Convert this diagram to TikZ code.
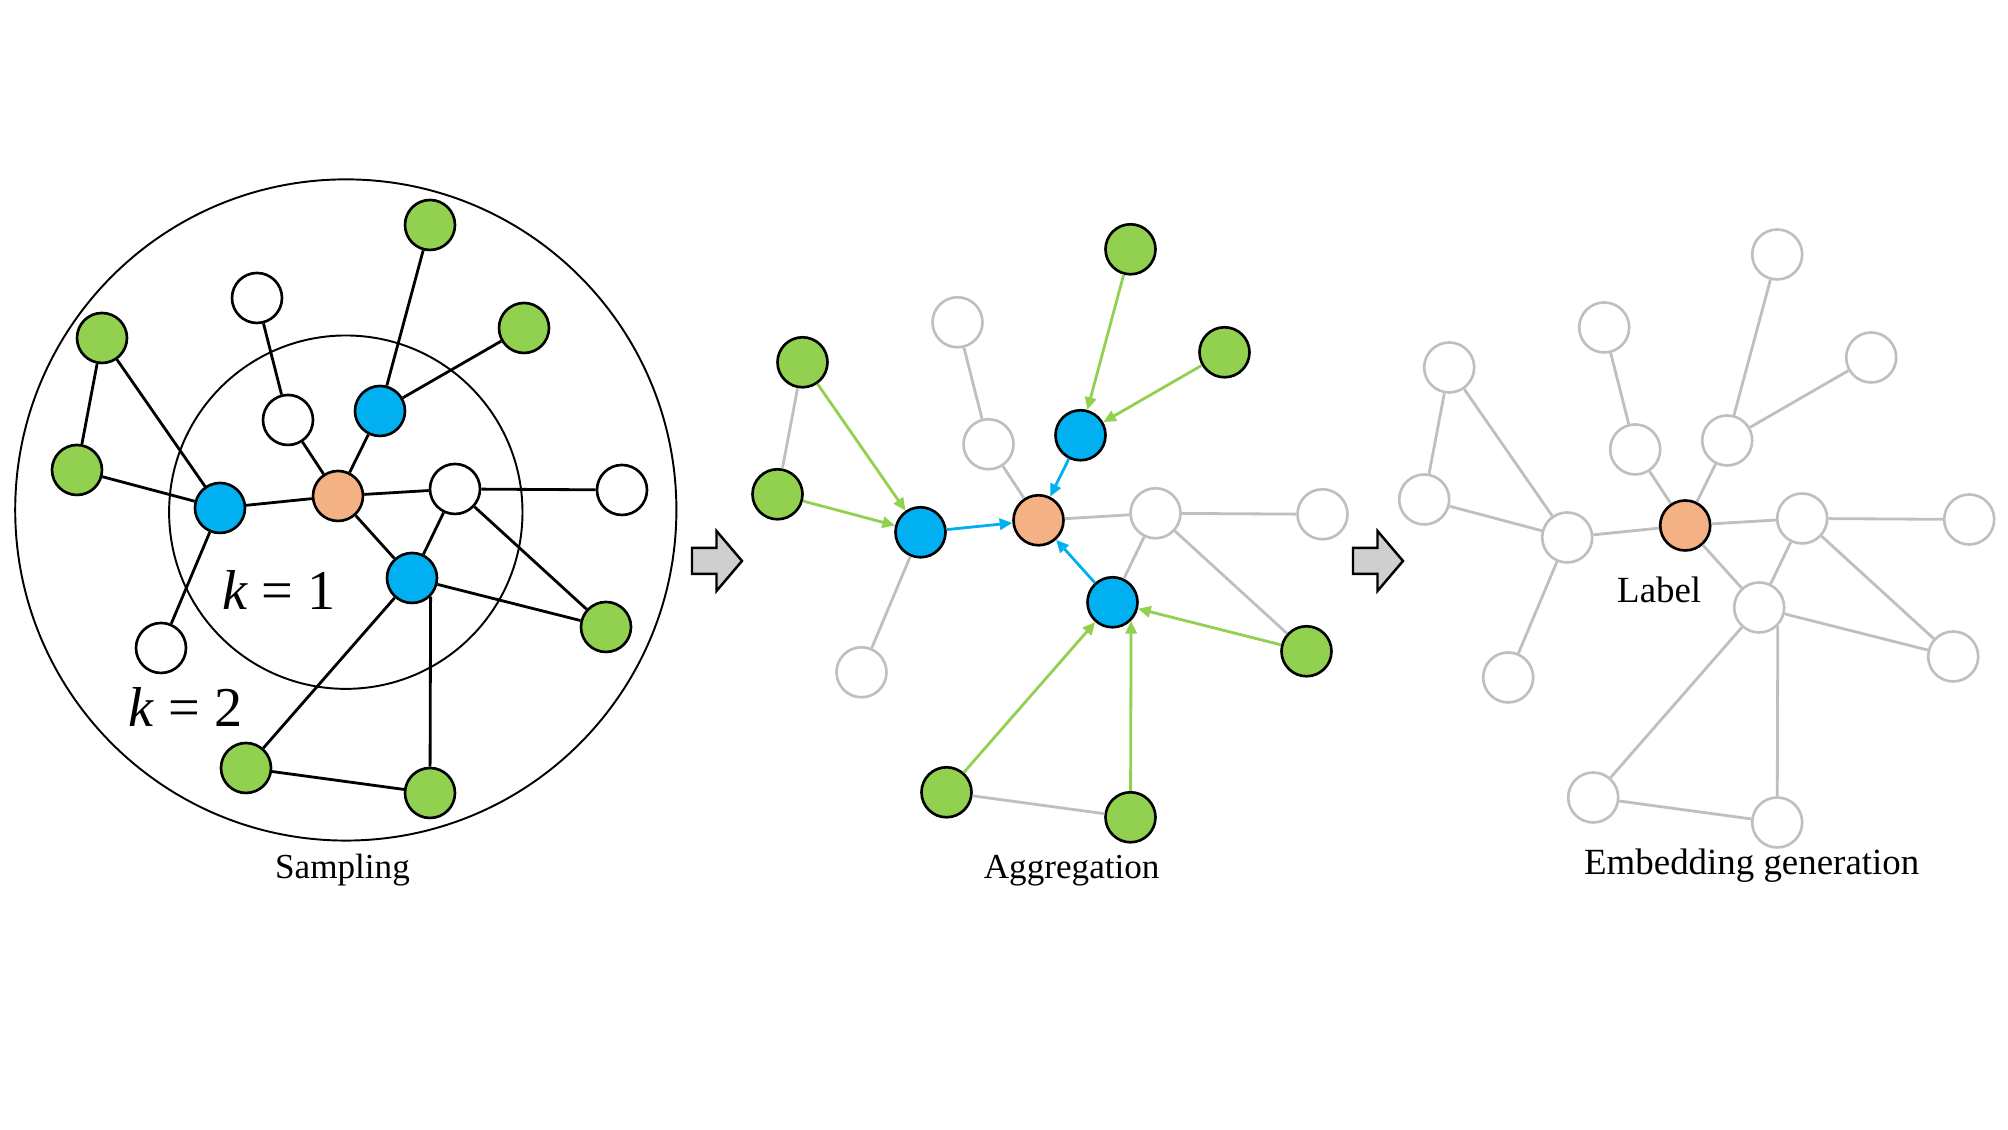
\documentclass[tikz,border=0pt]{standalone}
\usepackage{fontspec}
\setmainfont{Liberation Serif}
\usetikzlibrary{arrows.meta,positioning}
\definecolor{leafgreen}{HTML}{92D050}
\definecolor{hopblue}{HTML}{00B0F0}
\definecolor{targetorange}{HTML}{F4B183}
\definecolor{fadegray}{HTML}{BFBFBF}
\definecolor{arrowgray}{HTML}{D0CECE}
\newcommand{\graphnodes}{c/3.38/6.34/ctr, b1/2.20/6.22/hopone, b2/3.80/7.19/hopone, b3/4.12/5.52/hopone,
  w1/2.88/7.10/other, w2/2.57/8.32/other, w3/4.55/6.41/other, w4/6.22/6.40/other, w5/1.61/4.82/other,
  g1/4.30/9.05/hoptwo, g2/5.24/8.02/hoptwo, g3/1.02/7.92/hoptwo, g4/0.77/6.60/hoptwo,
  g5/6.06/5.03/hoptwo, g6/2.46/3.62/hoptwo, g7/4.30/3.37/hoptwo}
\newcommand{\graphedges}{c/b1, c/b2, c/b3, c/w1, c/w3, w1/w2, b2/g1, b2/g2, b1/g3, b1/g4, b1/w5,
  g3/g4, w3/w4, w3/g5, w3/b3, b3/g5, b3/g6, b3.-45/g7, g6/g7}

\begin{document}
\begin{tikzpicture}[>={Triangle[length=3.6pt,width=3.2pt]},
  vtx/.style={circle,draw,line width=0.75pt,minimum size=5mm,inner sep=0pt},
  ctr/.style={vtx,fill=targetorange},
  hopone/.style={vtx,fill=hopblue},
  hoptwo/.style={vtx,fill=leafgreen},
  other/.style={vtx,fill=white},
  faded/.style={vtx,draw=fadegray,fill=white},
  edge/.style={line width=0.8pt},
  gedge/.style={line width=0.8pt,draw=fadegray},
  caption/.style={anchor=base,font=\fontsize{10}{12}\selectfont}]
\useasboundingbox (0,0) rectangle (20.08,11.30);

\draw[line width=0.55pt] (3.458,6.20) circle (3.306);
\draw[line width=0.55pt] (3.458,6.178) circle (1.767);
\foreach \nm/\x/\y/\kind in \graphnodes
  \node[\kind] (a\nm) at (\x,\y) {};
\foreach \u/\v in \graphedges
  \draw[edge] (a\u) -- (a\v);
\node[anchor=base,font=\fontsize{16}{19}\selectfont] (kone) at (2.79,5.20) {\textit{k} = 1};
\node[anchor=base,font=\fontsize{16}{19}\selectfont] (ktwo) at (1.855,4.033) {\textit{k} = 2};
\node[caption] (sampling) at (3.425,2.517) {Sampling};

\begin{scope}[shift={(7.005,-0.243)},other/.style={faded}]
\foreach \nm/\x/\y/\kind in \graphnodes
  \node[\kind] (b\nm) at (\x,\y) {};
\foreach \u/\v in {g3/g4, w1/w2, c/w1, c/w3, w3/w4, w3/g5, w3/b3, b1/w5, g6/g7}
  \draw[gedge] (b\u) -- (b\v);
\foreach \u/\v in {g3/b1, g4/b1, g1/b2, g2/b2, g5/b3, g6/b3, g7/b3.-45}
  \draw[->,edge,leafgreen] (b\u) -- (b\v);
\foreach \u in {b1,b2,b3}
  \draw[->,edge,hopblue] (b\u) -- (bc);
\end{scope}
\node[caption] (aggregation) at (10.717,2.517) {Aggregation};

\begin{scope}[shift={(13.472,-0.295)},hopone/.style={faded},hoptwo/.style={faded},other/.style={faded}]
\foreach \nm/\x/\y/\kind in \graphnodes
  \node[\kind] (e\nm) at (\x,\y) {};
\foreach \u/\v in \graphedges
  \draw[gedge] (e\u) -- (e\v);
\end{scope}
\node[below=1.3mm of ec,xshift=-2.6mm,font=\fontsize{10.5}{12}\selectfont] (label) {Label};
\node[caption,font=\fontsize{10.5}{12}\selectfont] (embedding) at (17.517,2.55) {Embedding generation};

\foreach \ax in {6.92,13.53}
  \draw[fill=arrowgray,line width=0.7pt] (\ax,5.82) -- ({\ax+0.245},5.82) -- ({\ax+0.245},5.99)
    -- ({\ax+0.5},5.69) -- ({\ax+0.245},5.39) -- ({\ax+0.245},5.56) -- (\ax,5.56) -- cycle;
\end{tikzpicture}
\end{document}
